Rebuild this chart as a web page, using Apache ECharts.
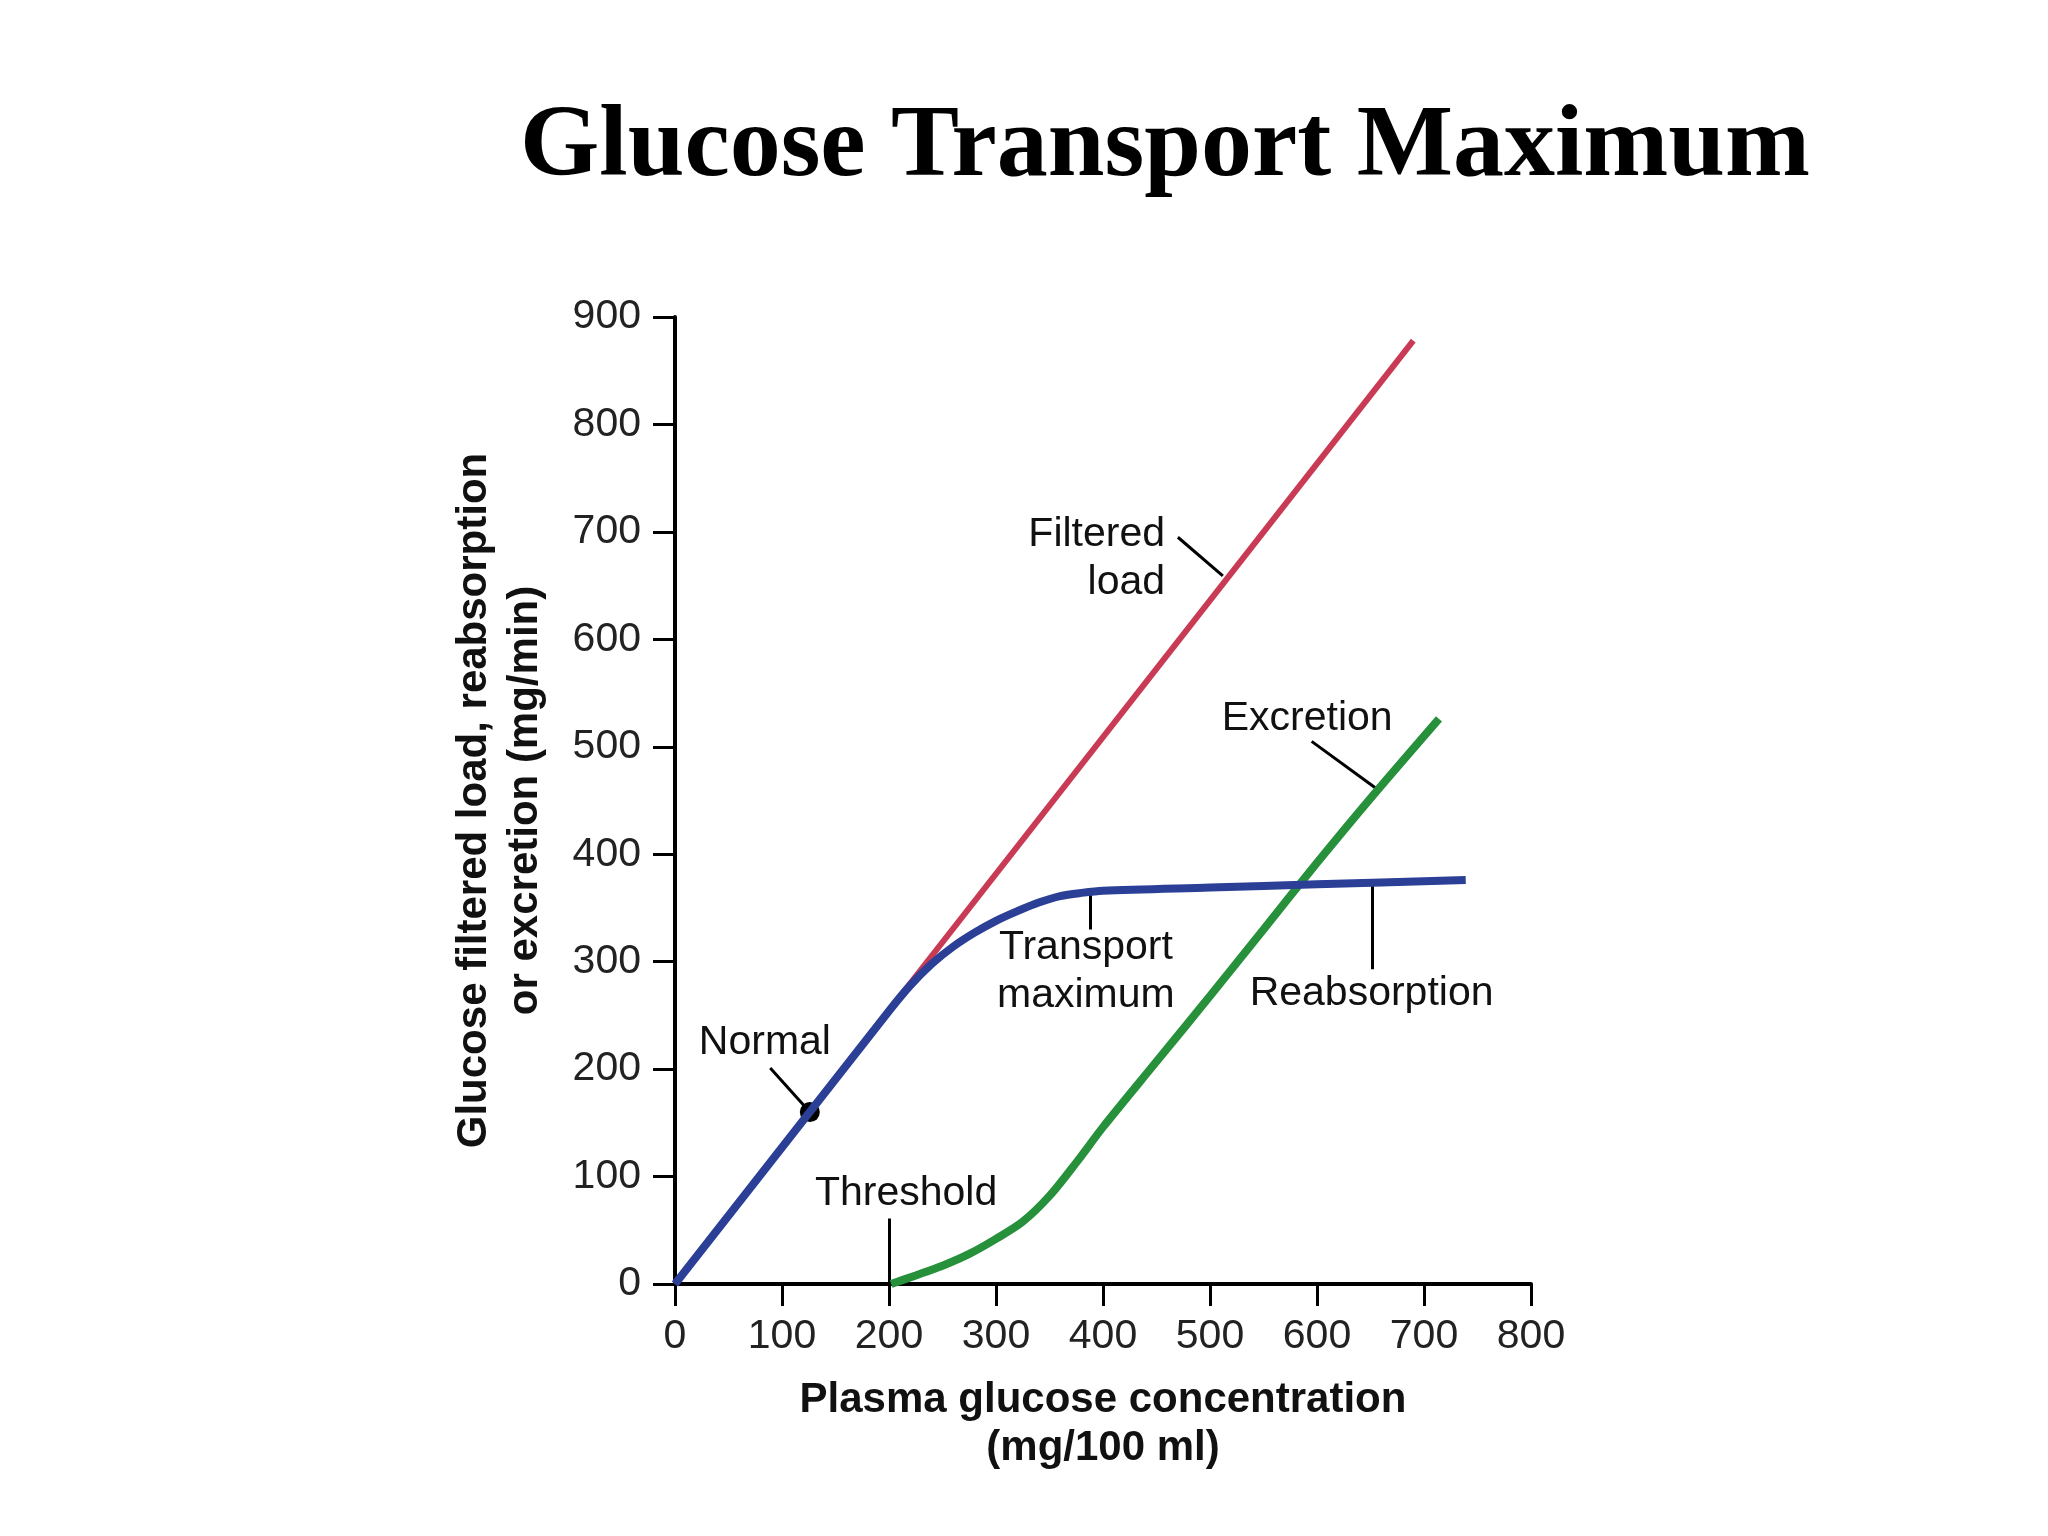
<!DOCTYPE html>
<html>
<head>
    <meta charset="utf-8" />
    <title>Glucose Transport Maximum</title>
    <script src="https://cdn.jsdelivr.net/npm/echarts@6/dist/echarts.min.js"></script>
    <style>
        html, body { margin: 0; padding: 0; background: #fff; }
    </style>
</head>
<body>
<div id="main" style="width: 2048px;height:1536px;"></div>
<script type="text/javascript">
    // 曲线数据 [plasma glucose (mg/100 ml), mg/min]
    var filteredLoad = [[0, 0], [690, 878]];
    var reabsorption = [[0, 0], [200, 254], [220, 278], [240, 298], [260, 314],
        [280, 327], [300, 338], [320, 347], [340, 355], [360, 361], [380, 364], [400, 366],
        [500, 369], [600, 372], [739, 376]];
    var excretion = [[202, 0], [225, 8], [250, 17], [275, 28], [300, 42], [325, 58],
        [350, 82], [375, 113], [400, 146], [450, 207], [500, 268], [550, 330],
        [600, 392], [650, 452], [714, 526]];
    var normalPoint = [[126, 160]];

    // 坐标轴刻度
    var xTicks = [0, 800, 100];
    var yTicks = [0, 900, 100];

    // 标注文字与引线 (数据坐标)
    var noteTexts = ['Filtered\nload', 'Excretion', 'Transport\nmaximum', 'Reabsorption', 'Normal', 'Threshold'];
    var noteAnchors = [[458, 675], [511, 526], [384, 291], [651, 270], [84, 225], [216, 84]];
    var noteAligns = ['right', 'left', 'center', 'center', 'center', 'center'];
    var leaderLines = [
        [[470, 695], [512, 659]],
        [[595, 505], [657, 460]],
        [[388, 365], [388, 330]],
        [[652, 371], [652, 293]],
        [[89, 201], [126, 160]],
        [[200, 61], [200, 0]]
    ];

    var myChart = echarts.init(document.getElementById('main'));

    var noteData = [];
    for (var i = 0; i < noteTexts.length; i++) {
        noteData.push({
            value: noteAnchors[i],
            label: {
                formatter: noteTexts[i],
                align: noteAligns[i]
            }
        });
    }
    var leaderData = [];
    for (var j = 0; j < leaderLines.length; j++) {
        leaderData.push({coords: leaderLines[j]});
    }

    var labelFont = '"Liberation Sans", Arial, sans-serif';

    var option = {
        backgroundColor: '#ffffff',
        animation: false,
        title: {
            text: 'Glucose Transport Maximum',
            left: 1160,
            top: 93,
            textAlign: 'center',
            textStyle: {
                fontFamily: '"Liberation Serif", "Times New Roman", serif',
                fontWeight: 'bold',
                fontSize: 102,
                color: '#000'
            }
        },
        grid: {
            left: 675,
            right: 517,
            top: 317,
            bottom: 252
        },
        xAxis: {
            type: 'value',
            min: xTicks[0],
            max: xTicks[1],
            interval: xTicks[2],
            name: 'Plasma glucose concentration\n(mg/100 ml)',
            nameLocation: 'middle',
            nameGap: 92,
            nameTextStyle: {
                fontFamily: labelFont,
                fontWeight: 'bold',
                fontSize: 42,
                lineHeight: 48,
                color: '#111'
            },
            axisLine: {lineStyle: {color: '#000', width: 4}},
            axisTick: {length: 22, lineStyle: {color: '#000', width: 3}},
            axisLabel: {
                margin: 32,
                fontFamily: labelFont,
                fontSize: 41,
                color: '#222'
            },
            splitLine: {show: false}
        },
        yAxis: {
            type: 'value',
            min: yTicks[0],
            max: yTicks[1],
            interval: yTicks[2],
            name: 'Glucose filtered load, reabsorption\nor excretion (mg/min)',
            nameLocation: 'middle',
            nameRotate: 90,
            nameGap: 124,
            nameTextStyle: {
                fontFamily: labelFont,
                fontWeight: 'bold',
                fontSize: 42,
                lineHeight: 51,
                color: '#111'
            },
            axisLine: {lineStyle: {color: '#000', width: 4}},
            axisTick: {length: 22, lineStyle: {color: '#000', width: 3}},
            axisLabel: {
                margin: 34,
                fontFamily: labelFont,
                fontSize: 41,
                color: '#222'
            },
            splitLine: {show: false}
        },
        series: [
            {
                name: 'Filtered load',
                type: 'line',
                data: filteredLoad,
                symbol: 'none',
                lineStyle: {color: '#c93b55', width: 6}
            },
            {
                name: 'Excretion',
                type: 'line',
                data: excretion,
                symbol: 'none',
                smooth: 0.3,
                lineStyle: {color: '#27903b', width: 8, cap: 'butt'}
            },
            {
                name: 'Reabsorption',
                type: 'line',
                data: reabsorption,
                symbol: 'none',
                smooth: 0.3,
                lineStyle: {color: '#2b3f96', width: 8}
            },
            {
                name: 'Leaders',
                type: 'lines',
                coordinateSystem: 'cartesian2d',
                data: leaderData,
                lineStyle: {color: '#000', width: 3, opacity: 1}
            },
            {
                name: 'Normal',
                type: 'scatter',
                data: normalPoint,
                symbol: 'circle',
                symbolSize: 20,
                itemStyle: {color: '#000', opacity: 1}
            },
            {
                name: 'Notes',
                type: 'scatter',
                data: noteData,
                symbolSize: 0,
                itemStyle: {opacity: 1},
                label: {
                    show: true,
                    position: 'inside',
                    verticalAlign: 'middle',
                    fontFamily: labelFont,
                    fontSize: 41,
                    lineHeight: 48,
                    color: '#111',
                    opacity: 1
                }
            }
        ]
    };
    myChart.setOption(option);
</script>
</body>
</html>
